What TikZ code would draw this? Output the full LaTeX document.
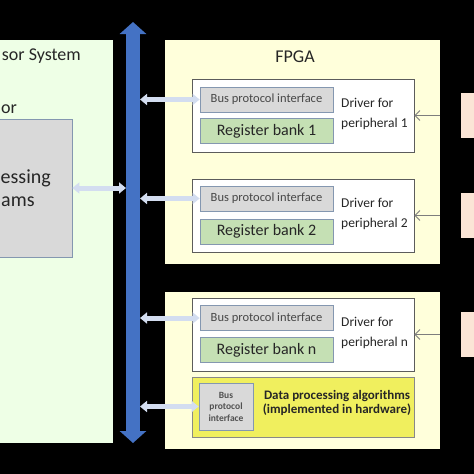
\documentclass[tikz,border=0pt]{standalone}
\usepackage{fontspec}
\setmainfont{Carlito}
\usetikzlibrary{arrows.meta}

\definecolor{procfill}{HTML}{EEFFE6}
\definecolor{fpgafill}{HTML}{FFFFDB}
\definecolor{ifcfill}{HTML}{D9D9D9}
\definecolor{regfill}{HTML}{C5E0B4}
\definecolor{boxline}{HTML}{8497B0}
\definecolor{dpfill}{HTML}{F0EF5E}
\definecolor{perfill}{HTML}{FBE5D6}
\definecolor{busblue}{HTML}{4472C4}
\definecolor{linkfill}{HTML}{D3DDF0}
\definecolor{txt}{HTML}{262626}

\tikzset{
  area/.style={draw=none, inner sep=0pt},
  ifcbox/.style={draw=boxline, fill=ifcfill, line width=0.8pt, inner sep=0pt, minimum width=133pt, minimum height=25pt, text=txt!85, font=\fontsize{12.5}{14}\selectfont},
  regbox/.style={draw=boxline, fill=regfill, line width=0.8pt, inner sep=0pt, minimum width=133pt, minimum height=25pt, text=txt, font=\fontsize{16}{18}\selectfont},
  drvbox/.style={draw=txt!75, fill=white, line width=0.8pt, inner sep=0pt, minimum width=222pt, minimum height=73pt},
  drvtext/.style={anchor=west, inner sep=0pt, align=left, text=txt, font=\fontsize{13.5}{20}\selectfont},
  perbox/.style={fill=perfill, inner sep=0pt, minimum width=29pt, minimum height=45pt},
  title/.style={inner sep=0pt, text=txt, font=\fontsize{18}{20}\selectfont},
  bus/.style={line width=14pt, color=busblue, {Triangle[width=26pt,length=12pt]}-{Triangle[width=26pt,length=12pt]}},
  link/.style={line width=5pt, color=linkfill, {Triangle[width=11pt,length=7pt]}-{Triangle[width=11pt,length=7pt]}},
  feed/.style={line width=0.8pt, color=txt!60, -{Straight Barb[length=5pt,width=10pt]}}
}

\begin{document}
\begin{tikzpicture}[x=1pt,y=1pt,yscale=-1,xscale=1]
  \useasboundingbox (0,0) rectangle (474,474);
  \fill[black] (0,0) rectangle (474,474);
  \clip (0,0) rectangle (474,474);

  % Processor side
  \node[area, fill=procfill, minimum width=118pt, minimum height=403pt] (proc) at (54,241.5) {};
  \node[title, anchor=east] (proctitle) at (81,56) {sor System};
  \node[title, anchor=west] (cpu) at (1,109) {or};
  \node[draw=boxline, fill=ifcfill, line width=0.8pt, inner sep=0pt, minimum width=77pt, minimum height=138pt] (alg) at (33.5,188) {};
  \node[inner sep=0pt, anchor=east, text=txt, font=\fontsize{20}{22}\selectfont] (algA) at (51,178) {essing};
  \node[inner sep=0pt, anchor=west, text=txt, font=\fontsize{20}{22}\selectfont] (algB) at (1,202) {ams};

  % FPGA areas
  \node[area, fill=fpgafill, minimum width=275pt, minimum height=224pt] (fpgaA) at (302.5,152) {};
  \node[area, fill=fpgafill, minimum width=275pt, minimum height=157pt] (fpgaB) at (302.5,370.5) {};
  \node[title] (fpgatitle) at (295,57) {FPGA};

  % Peripheral 1
  \node[drvbox] (drv1) at (303,115.5) {};
  \node[ifcbox] (bpi1) at (266.5,99.5) {Bus protocol interface};
  \node[regbox] (reg1) at (266.5,131) {Register bank 1};
  \node[drvtext] (drvtxt1) at (341,114) {Driver for\\peripheral 1};

  % Peripheral 2
  \node[drvbox] (drv2) at (303,215.5) {};
  \node[ifcbox] (bpi2) at (266.5,198.5) {Bus protocol interface};
  \node[regbox] (reg2) at (266.5,231.5) {Register bank 2};
  \node[drvtext] (drvtxt2) at (341,214) {Driver for\\peripheral 2};

  % Peripheral n
  \node[drvbox] (drvn) at (303,334.5) {};
  \node[ifcbox] (bpin) at (266.5,318) {Bus protocol interface};
  \node[regbox] (regn) at (266.5,350) {Register bank n};
  \node[drvtext] (drvtxtn) at (341,333) {Driver for\\peripheral n};

  % Data processing in hardware
  \node[draw=txt!55, fill=dpfill, line width=0.8pt, inner sep=0pt, minimum width=222pt, minimum height=60pt] (dp) at (303,407) {};
  \node[draw=boxline, fill=ifcfill, line width=0.8pt, inner sep=0pt, minimum width=54pt, minimum height=47pt, align=center, text=txt!80, font=\bfseries\fontsize{9.5}{11.5}\selectfont] (bpid) at (226,406.5) {Bus\\protocol\\interface};
  \node[inner sep=0pt, align=center, text=txt, font=\bfseries\fontsize{13}{14}\selectfont] (dptxt) at (337,403) {Data processing algorithms\\(implemented in hardware)};

  % Peripherals
  \node[perbox] (per1) at (475.5,115.5) {};
  \node[perbox] (per2) at (475.5,215.5) {};
  \node[perbox] (pern) at (475.5,334.5) {};

  % Bus
  \coordinate (bustop) at (133,22);
  \coordinate (busbot) at (133,443);
  \coordinate (busL) at (126,0);
  \coordinate (busR) at (140,0);
  \draw[bus] (bustop) -- (busbot);

  % Block arrows
  \draw[link] (alg.east) -- (alg.east -| busL);
  \draw[link] (bpi1.west -| busR) -- (bpi1.west);
  \draw[link] (bpi2.west -| busR) -- (bpi2.west);
  \draw[link] (bpin.west -| busR) -- (bpin.west);
  \draw[link] (bpid.west -| busR) -- (bpid.west);

  % Driver inputs
  \draw[feed] (drv1.east -| fpgaA.east) -- (drv1.east);
  \draw[feed] (drv2.east -| fpgaA.east) -- (drv2.east);
  \draw[feed] (drvn.east -| fpgaB.east) -- (drvn.east);

\end{tikzpicture}
\end{document}
